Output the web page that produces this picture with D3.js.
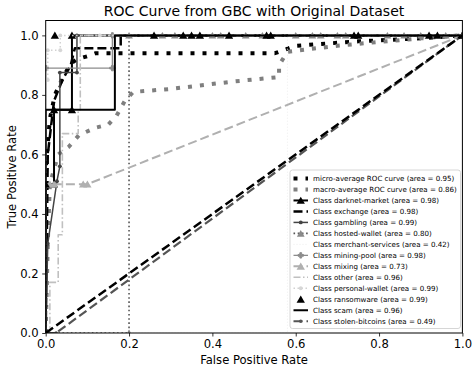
<!DOCTYPE html>
<html><head><meta charset="utf-8">
<script src="https://cdn.jsdelivr.net/npm/d3@7"></script>
<style>body{margin:0;background:#fff} svg{display:block} text{font-family:"DejaVu Sans",sans-serif;fill:#000}</style>
</head><body><svg id="c" width="474" height="367"></svg>
<script>
// ---- data ----
const titleText = "ROC Curve from GBC with Original Dataset";
const xLabel = "False Positive Rate";
const yLabel = "True Positive Rate";
const xTicks = [0.0, 0.2, 0.4, 0.6, 0.8, 1.0];
const yTicks = [0.0, 0.2, 0.4, 0.6, 0.8, 1.0];

const microFpr = [0, 0, 0.01, 0.022, 0.035, 0.05, 0.06, 0.075, 0.1, 0.12, 0.55, 0.6, 0.75, 0.9, 1];
const microTpr = [0, 0.55, 0.72, 0.8, 0.84, 0.88, 0.905, 0.92, 0.93, 0.94, 0.94, 0.965, 0.98, 0.99, 1];
const macroFpr = [0, 0.005, 0.01, 0.03, 0.055, 0.08, 0.12, 0.15, 0.17, 0.19, 0.21, 0.3, 0.45, 0.56, 0.56, 0.58, 0.7, 0.8, 0.9, 1];
const macroTpr = [0, 0.3, 0.5, 0.6, 0.625, 0.665, 0.69, 0.70, 0.73, 0.78, 0.81, 0.82, 0.845, 0.86, 0.90, 0.945, 0.965, 0.978, 0.99, 1];
const darknetFpr = [0, 0, 0.02, 0.02, 0.063, 0.063, 1];
const darknetTpr = [0, 0.5, 0.5, 0.75, 0.75, 1, 1];
const exchangeFpr = [0, 0.005, 0.02, 0.04, 0.06, 0.07, 0.18, 0.18, 1];
const exchangeTpr = [0, 0.6, 0.78, 0.85, 0.9, 0.957, 0.957, 1, 1];
const gamblingFpr = [0, 0.005, 0.027, 0.034, 0.034, 0.075, 0.075, 1];
const gamblingTpr = [0, 0.3, 0.51, 0.56, 0.875, 0.875, 1, 1];
const hostedFpr = [0, 0.2, 0.2, 0.28, 0.31, 0.40, 0.42, 0.48, 0.52, 0.6, 0.64, 0.66, 0.7, 0.72, 0.82, 0.86, 0.9, 0.96, 1];
const hostedTpr = [0, 0, 1, 1, 1, 1, 1, 1, 1, 1, 1, 1, 1, 1, 1, 1, 1, 1, 1];
const merchantFpr = [0, 0.58, 0.58, 1];
const merchantTpr = [0, 0, 1, 1];
const miningFpr = [0, 0, 0.16, 0.16, 1];
const miningTpr = [0, 0.89, 0.89, 1, 1];
const mixingFpr = [0, 0, 0.01, 0.02, 0.09, 0.1, 1];
const mixingTpr = [0, 0.5, 0.5, 0.5, 0.5, 0.5, 1];
const otherFpr = [0, 0.01, 0.01, 0.03, 0.03, 0.04, 0.04, 0.078, 0.078, 0.083, 0.083, 1];
const otherTpr = [0, 0, 0.17, 0.17, 0.33, 0.33, 0.67, 0.67, 0.75, 0.75, 1, 1];
const personalFpr = [0, 0, 0.005, 0.005, 0.035, 0.035, 0.13, 1];
const personalTpr = [0, 0.85, 0.85, 0.95, 0.95, 1, 1, 1];
const ransomFpr = [0, 0, 0.022, 0.26, 0.33, 0.35, 0.37, 0.44, 0.53, 0.54, 0.74, 0.75, 0.92, 0.94, 1];
const ransomTpr = [0, 0.5, 1, 1, 1, 1, 1, 1, 1, 1, 1, 1, 1, 1, 1];
const scamFpr = [0, 0, 0.166, 0.166, 1];
const scamTpr = [0, 0.75, 0.75, 1, 1];
const stolenFpr = [0, 0.025, 1];
const stolenTpr = [0, 0, 1];
const chanceFpr = [0, 1];
const chanceTpr = [0, 1];

const seriesLabels = ["micro-average ROC curve", "macro-average ROC curve",
  "Class darknet-market", "Class exchange", "Class gambling", "Class hosted-wallet",
  "Class merchant-services", "Class mining-pool", "Class mixing", "Class other",
  "Class personal-wallet", "Class ransomware", "Class scam", "Class stolen-bitcoins"];
const seriesAreas = [0.95, 0.86, 0.98, 0.98, 0.99, 0.80, 0.42, 0.98, 0.73, 0.96, 0.99, 0.99, 0.96, 0.49];

// ---- styles (separate from data) ----
const styles = [
  {color:"#000", w:4, dash:"4,8", marker:null},
  {color:"#7f7f7f", w:4, dash:"4,8", marker:null},
  {color:"#000", w:2, dash:null, marker:"tri", mcolor:"#000", ms:30},
  {color:"#000", w:2.5, dash:"9,4", marker:null},
  {color:"#444", w:1.5, dash:null, marker:"circle", mcolor:"#444", ms:12},
  {color:"#555", w:1.6, dash:"1.6,2.6", marker:"tri", mcolor:"#8a8a8a", ms:26},
  {color:"#ececec", w:1, dash:"1,2", marker:null},
  {color:"#8c8c8c", w:1.3, dash:null, marker:"plus", mcolor:"#8c8c8c", ms:16},
  {color:"#b0b0b0", w:2, dash:"9,4", marker:"tri", mcolor:"#b0b0b0", ms:30},
  {color:"#c0c0c0", w:1.6, dash:"7,2.5,1.5,2.5", marker:null},
  {color:"#d2d2d2", w:1.5, dash:"1.5,2.5", marker:"circle", mcolor:"#d6d6d6", ms:12},
  {color:"none", w:0, dash:null, marker:"tri", mcolor:"#000", ms:30},
  {color:"#000", w:2, dash:null, marker:null},
  {color:"#555", w:2.2, dash:"9,4", marker:"circle", mcolor:"#555", ms:10}
];

const seriesData = [
  [microFpr, microTpr], [macroFpr, macroTpr], [darknetFpr, darknetTpr], [exchangeFpr, exchangeTpr],
  [gamblingFpr, gamblingTpr], [hostedFpr, hostedTpr], [merchantFpr, merchantTpr], [miningFpr, miningTpr],
  [mixingFpr, mixingTpr], [otherFpr, otherTpr], [personalFpr, personalTpr], [ransomFpr, ransomTpr],
  [scamFpr, scamTpr], [stolenFpr, stolenTpr]
];

// ---- layout ----
const L = 45.7, R = 462.4, T = 20.5, B = 333;
const x = d3.scaleLinear().domain([0, 1]).range([L, R]);
const y = d3.scaleLinear().domain([0, 1.05]).range([B, T]);
const svg = d3.select("#c");

svg.append("defs").append("clipPath").attr("id", "clip")
  .append("rect").attr("x", L).attr("y", T).attr("width", R - L).attr("height", B - T);

const plot = svg.append("g").attr("clip-path", "url(#clip)");
const line = d3.line().x(d => x(d[0])).y(d => y(d[1]));

function symFor(m, size) {
  const t = m === "tri" ? d3.symbolTriangle : m === "plus" ? d3.symbolCross : d3.symbolCircle;
  return d3.symbol().type(t).size(size)();
}

seriesData.forEach((sd, i) => {
  const st = styles[i];
  const pts = sd[0].map((f, k) => [f, sd[1][k]]);
  if (st.color !== "none") {
    plot.append("path").datum(pts).attr("d", line)
      .attr("fill", "none").attr("stroke", st.color).attr("stroke-width", st.w)
      .attr("stroke-dasharray", st.dash).attr("stroke-linejoin", "round");
  }
  if (st.marker) {
    plot.selectAll(null).data(pts).enter().append("path")
      .attr("transform", d => `translate(${x(d[0])},${y(d[1]) + (st.marker === "tri" ? 1 : 0)})`)
      .attr("d", symFor(st.marker, st.ms))
      .attr("fill", st.mcolor).attr("stroke", st.marker === "plus" ? st.mcolor : "none");
  }
});
// chance line
plot.append("path").datum(chanceFpr.map((f, k) => [f, chanceTpr[k]])).attr("d", line)
  .attr("fill", "none").attr("stroke", "#000").attr("stroke-width", 2.5).attr("stroke-dasharray", "9,4");

// ---- axes ----
const xAxis = svg.append("g").attr("transform", `translate(0,${B})`)
  .call(d3.axisBottom(x).tickValues(xTicks).tickFormat(d3.format(".1f")).tickSize(3.5).tickPadding(3.5));
const yAxis = svg.append("g").attr("transform", `translate(${L},0)`)
  .call(d3.axisLeft(y).tickValues(yTicks).tickFormat(d3.format(".1f")).tickSize(3.5).tickPadding(3.5));
[xAxis, yAxis].forEach(g => {
  g.select(".domain").remove();
  g.selectAll("line").attr("stroke", "#000").attr("stroke-width", 0.8);
  g.selectAll("text").style("font-size", "11.6px").style("font-family", "DejaVu Sans");
});
svg.append("rect").attr("x", L).attr("y", T).attr("width", R - L).attr("height", B - T)
  .attr("fill", "none").attr("stroke", "#000").attr("stroke-width", 1);

svg.append("text").attr("x", (L + R) / 2).attr("y", 15.5).attr("text-anchor", "middle")
  .style("font-size", "14px").text(titleText);
svg.append("text").attr("x", (L + R) / 2).attr("y", 364).attr("text-anchor", "middle")
  .style("font-size", "11.6px").text(xLabel);
svg.append("text").attr("transform", `translate(16,${(T + B) / 2}) rotate(-90)`).attr("text-anchor", "middle")
  .style("font-size", "11.6px").text(yLabel);

// ---- legend ----
const lg = svg.append("g");
const lx0 = 290, lx1 = 460.5, ly0 = 170, rowH = 10.98, row0 = 178.5;
lg.append("rect").attr("x", lx0).attr("y", ly0).attr("width", lx1 - lx0).attr("height", 158.5)
  .attr("rx", 2.5).attr("fill", "#fff").attr("fill-opacity", 0.85).attr("stroke", "#cccccc").attr("stroke-width", 0.8);
seriesLabels.forEach((lab, i) => {
  const st = styles[i];
  const yy = row0 + i * rowH;
  const hx0 = 293.5, hx1 = 308;
  if (st.color !== "none") {
    lg.append("line").attr("x1", hx0).attr("x2", hx1).attr("y1", yy).attr("y2", yy)
      .attr("stroke", st.color).attr("stroke-width", st.w).attr("stroke-dasharray", st.dash);
  }
  if (st.marker) {
    lg.append("path").attr("transform", `translate(${(hx0 + hx1) / 2},${yy + (st.marker === "tri" ? 1 : 0)})`)
      .attr("d", symFor(st.marker, st.ms)).attr("fill", st.mcolor)
      .attr("stroke", st.marker === "plus" ? st.mcolor : "none");
  }
  lg.append("text").attr("x", 313).attr("y", yy + 2.6).style("font-size", "7.1px")
    .text(`${lab} (area = ${seriesAreas[i].toFixed(2)})`);
});
</script></body></html>
